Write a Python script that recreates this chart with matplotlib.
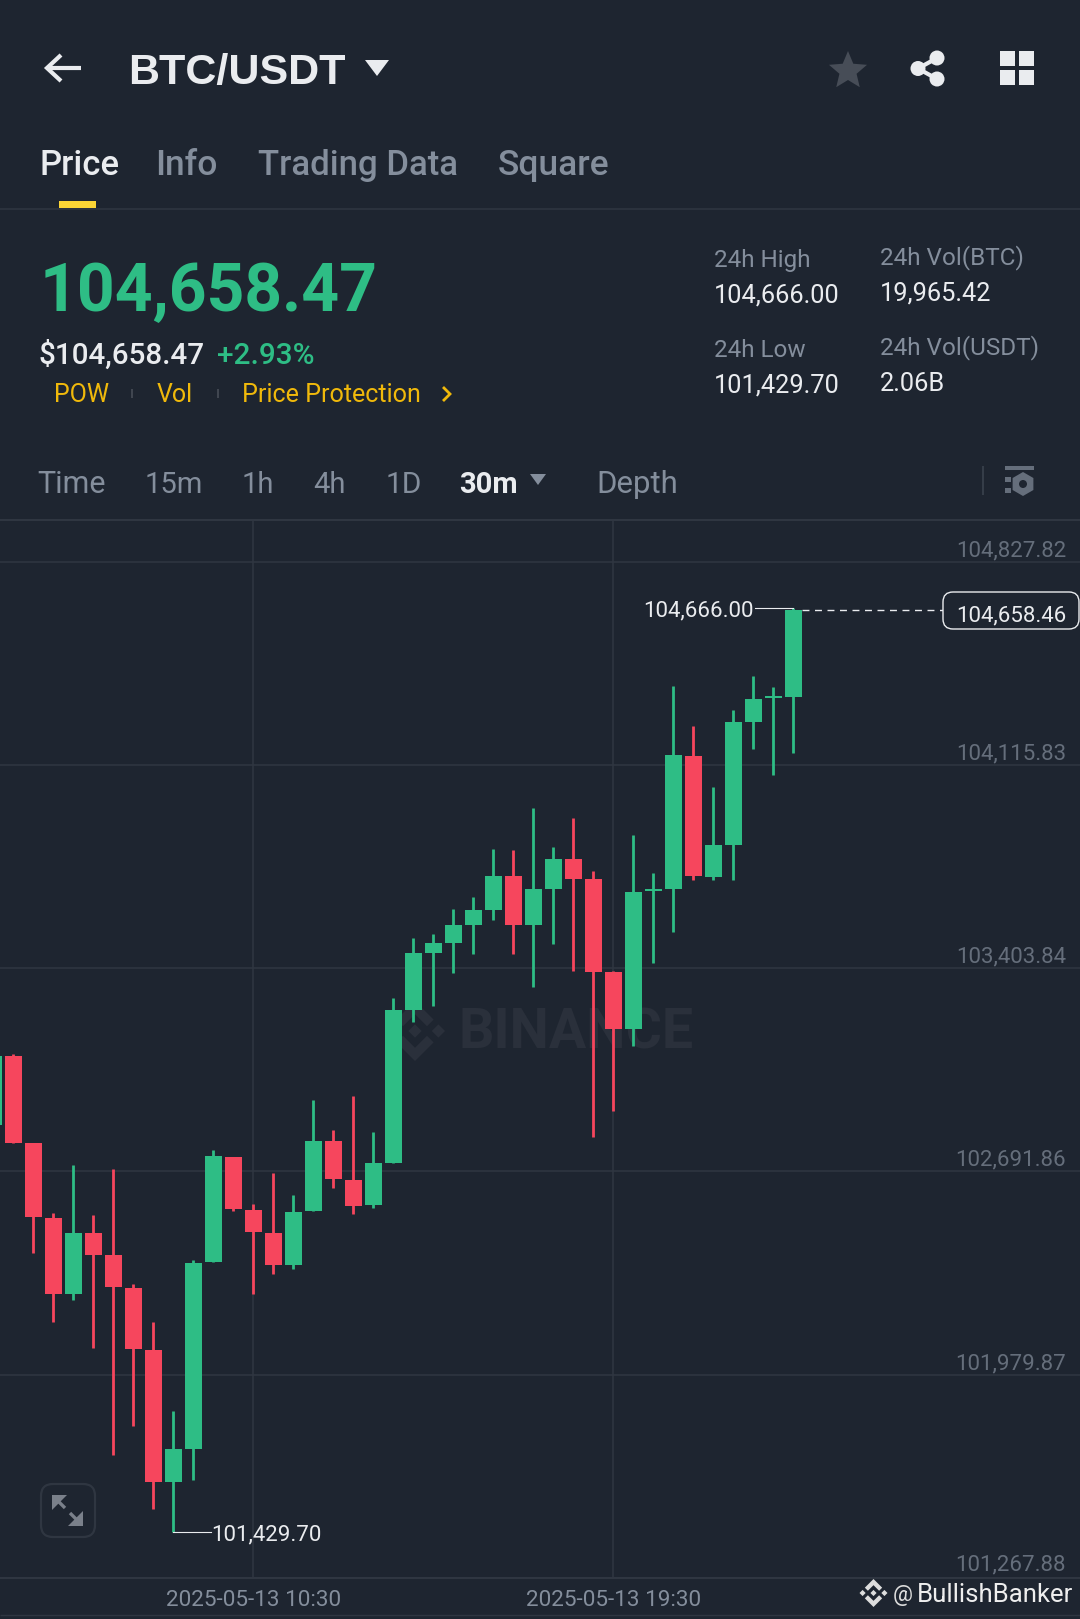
import numpy as np
import matplotlib
matplotlib.use('Agg')
import matplotlib.pyplot as plt
from matplotlib.patches import Polygon, Circle, FancyBboxPatch, Rectangle
from matplotlib.lines import Line2D
from matplotlib.transforms import Affine2D

plt.rcParams['font.family'] = ['Roboto', 'DejaVu Sans']

# 30m candles, first one is cut by the left edge
candle_index = list(range(-1, 40))
opens = [102855.6, 103097.8, 102789.8, 102529.1, 102260.6, 102476.5, 102398.8, 102284.3, 102067.1, 101602.5,
         101720.9, 102373.8, 102743.7, 102558.1, 102475.2, 102364.6, 102551.5, 102799.0, 102663.4, 102572.6,
         102722.6, 103257.4, 103455.9, 103493.3, 103556.4, 103607.8, 103726.9, 103554.1, 103682.5, 103785.3,
         103715.2, 103389.4, 103192.0, 103673.2, 103682.5, 104148.6, 103724.6, 103835.5, 104267.7, 104349.5,
         104353.0]
closes = [103097.8, 102792.4, 102530.4, 102260.6, 102476.5, 102400.1, 102285.6, 102068.4, 101602.5, 101718.3,
          102372.5, 102745.0, 102559.4, 102477.8, 102364.6, 102550.2, 102799.0, 102666.0, 102571.3, 102720.0,
          103257.4, 103455.9, 103493.3, 103556.4, 103606.6, 103726.9, 103554.1, 103680.2, 103785.3, 103715.2,
          103390.5, 103192.0, 103670.9, 103680.2, 104149.7, 103725.7, 103834.4, 104265.4, 104347.1, 104356.5,
          104658.46]
highs = [103097.8, 103101.7, 102789.8, 102547.6, 102713.4, 102539.7, 102700.3, 102297.5, 102165.9, 101853.9,
         102380.4, 102766.1, 102743.7, 102576.5, 102687.1, 102610.8, 102942.5, 102835.8, 102956.9, 102830.6,
         103298.3, 103509.7, 103523.7, 103610.1, 103652.2, 103820.4, 103818.0, 103964.0, 103829.7, 103930.1,
         103744.4, 103392.9, 103871.7, 103736.3, 104392.7, 104252.5, 104037.6, 104308.6, 104427.7, 104388.0,
         104666.00]
lows = [102855.6, 102792.4, 102406.7, 102165.9, 102242.2, 102072.4, 101697.2, 101801.2, 101510.3, 101429.70,
        101610.4, 102373.8, 102554.2, 102263.3, 102331.7, 102351.4, 102551.5, 102634.5, 102541.0, 102562.1,
        102722.6, 103214.2, 103272.6, 103388.2, 103453.6, 103572.7, 103454.8, 103338.0, 103489.8, 103395.2,
        102811.2, 102904.6, 103132.4, 103423.2, 103531.9, 103714.1, 103714.1, 103711.7, 104173.1, 104082.0,
        104157.9]

grid_prices = [104827.82, 104115.83, 103403.84, 102691.86, 101979.87, 101267.88]
time_ticks = [12, 30]
time_labels = ['2025-05-13 10:30', '2025-05-13 19:30']

BG = '#1E2530'
GRID = '#2F3641'
GREEN = '#2EBD85'
RED = '#F6465D'
WHITE = '#EAECEF'
GREY = '#848E9C'
DIM = '#656E7B'
YELLOW = '#F0B90B'

W, H = 1080, 1619
fig = plt.figure(figsize=(W / 100, H / 100), dpi=100, facecolor=BG)
# everything outside the candles is placed in screen pixels, y going down
px = Affine2D().scale(1, -1).translate(0, H)

top, bottom = 520, 1577.8
ax = fig.add_axes([0, 1 - bottom / H, 1, (bottom - top) / H], facecolor=BG)
ax.set_xlim(-2 / 3, 53 + 1 / 3)
ax.set_ylim(101267.88, 104974.3)

ax.set_yticks(grid_prices)
ax.set_yticklabels([])
ax.set_xticks(time_ticks)
ax.set_xticklabels(time_labels, fontsize=16.2, color=GREY)
ax.tick_params(length=0, pad=9)
ax.grid(True, color=GRID, lw=1.1)
ax.set_axisbelow(True)
for side in ['left', 'right']:
    ax.spines[side].set_visible(False)
for side in ['top', 'bottom']:
    ax.spines[side].set_color(GRID)
    ax.spines[side].set_linewidth(1.5)


def logo(cx, cy, r, color, target, zorder):
    shapes = [
        [(0, -.22), (.22, 0), (0, .22), (-.22, 0)],
        [(-.78, -.22), (-.56, 0), (-.78, .22), (-1, 0)],
        [(.78, -.22), (1, 0), (.78, .22), (.56, 0)],
        [(0, -1), (.62, -.38), (.40, -.16), (0, -.56), (-.40, -.16), (-.62, -.38)],
        [(0, 1), (.62, .38), (.40, .16), (0, .56), (-.40, .16), (-.62, .38)],
    ]
    for s in shapes:
        pts = np.array(s) * r + [cx, cy]
        p = Polygon(pts, closed=True, fc=color, ec='none', transform=px, zorder=zorder, clip_on=False)
        target(p)


# watermark sits behind the candles
logo(415, 1031, 30, '#2A303B', ax.add_patch, 1.5)
ax.text(458, 1048, 'BINANCE', transform=px, fontsize=40, fontweight='bold', color='#2A303B', zorder=1.5)

# candles
x = np.array(candle_index)
o = np.array(opens)
c = np.array(closes)
colors = [GREEN if b >= a else RED for a, b in zip(o, c)]
ax.vlines(x, lows, highs, colors=colors, lw=2, zorder=3)
body = np.maximum(np.abs(c - o), 7)
ax.bar(x, body, width=0.875, bottom=np.minimum(o, c), color=colors, zorder=4)

# price scale labels, just above their grid lines
for p in grid_prices:
    off = 7 if p == grid_prices[-1] else 5.5
    ax.annotate(f'{p:,.2f}', xy=(1, p), xycoords=ax.get_yaxis_transform(), xytext=(-14 * .72, off * .72),
                textcoords='offset points', ha='right', va='baseline', fontsize=16, color=DIM)

# high / low markers
hi_i = int(np.argmax(highs))
lo_i = int(np.argmin(lows))
hi_x = candle_index[hi_i]
lo_x = candle_index[lo_i]
ax.plot([hi_x, hi_x - 1.9], [highs[hi_i], highs[hi_i]], color=WHITE, lw=.8, zorder=5)
ax.annotate(f'{highs[hi_i]:,.2f}', xy=(hi_x, highs[hi_i]), xytext=(-40 * .72, -8.4 * .72),
            textcoords='offset points', ha='right', va='baseline', fontsize=16, color=WHITE, zorder=6)
ax.plot([lo_x, lo_x + 1.9], [lows[lo_i], lows[lo_i]], color=WHITE, lw=.8, zorder=5)
ax.annotate(f'{lows[lo_i]:,.2f}', xy=(lo_x, lows[lo_i]), xytext=(37.5 * .72, -8.5 * .72),
            textcoords='offset points', ha='left', va='baseline', fontsize=16, color=WHITE, zorder=6)

# last price line and box
ax.plot([x[-1] + .44, (943 - 40 / 3) / 20], [closes[-1], closes[-1]], color=WHITE, lw=1,
        dashes=(5, 4), zorder=5)
fig.add_artist(FancyBboxPatch((943, 592), 136, 37, boxstyle='round,pad=0,rounding_size=10', fc=BG, ec=WHITE,
                              lw=1, transform=px))


def label(x_px, y_px, s, size, color=WHITE, weight='normal', ha='left', family=None):
    fig.text(x_px, y_px, s, transform=px, fontsize=size, color=color, fontweight=weight, ha=ha, va='baseline',
             family=family)


def shape(pts, color):
    fig.add_artist(Polygon(pts, closed=True, fc=color, ec='none', transform=px))


def line(xs, ys, color, lw, cap='butt'):
    fig.add_artist(Line2D(xs, ys, color=color, lw=lw, transform=px, solid_capstyle=cap, solid_joinstyle='miter'))


label(1011, 621, f'{closes[-1]:,.2f}', 16, ha='center')

# top bar
line([49, 81], [68, 68], WHITE, 3)
line([61, 47, 61], [55, 68, 81], WHITE, 3)
label(128, 84, 'BTC/USDT', 31, weight='bold', family=['Liberation Sans', 'DejaVu Sans'])
shape([(365, 60), (389, 60), (377, 76)], WHITE)
ang = np.deg2rad(np.arange(10) * 36 - 90)
rad = np.where(np.arange(10) % 2 == 0, 20, 9)
shape(np.c_[848 + rad * np.cos(ang), 71 + rad * np.sin(ang)], '#474D57')
line([937, 918, 937], [58, 68.5, 79], WHITE, 3)
for cx, cy in [(937, 58), (918, 68.5), (937, 79)]:
    fig.add_artist(Circle((cx, cy), 7.5, fc=WHITE, ec='none', transform=px))
for rx, ry in [(1000, 51), (1019, 51), (1000, 70), (1019, 70)]:
    fig.add_artist(Rectangle((rx, ry), 15, 15, fc=WHITE, ec='none', transform=px))

# tabs
label(39, 175, 'Price', 25, weight='medium')
label(155, 175, 'Info', 25.5, GREY, 'medium')
label(258, 175, 'Trading Data', 25, GREY, 'medium')
label(498, 175, 'Square', 25.5, GREY, 'medium')
fig.add_artist(Rectangle((59, 201), 37, 7, fc='#FCD535', ec='none', transform=px))
line([0, W], [208.5, 208.5], GRID, 1.1)

# price block
label(40, 311, '104,658.47', 47.5, GREEN, 'bold')
label(39, 363.5, '$104,658.47', 21.3, WHITE, 'medium')
label(217, 363.5, '+2.93%', 21.4, GREEN, 'medium')
label(54, 402, 'POW', 18, YELLOW)
label(157, 402, 'Vol', 18, YELLOW)
label(242, 402, 'Price Protection', 18.1, YELLOW)
line([132, 132], [389, 398], '#474D57', 1.2)
line([218, 218], [389, 398], '#474D57', 1.2)
line([443, 450, 443], [387, 394, 401], YELLOW, 2)

label(714, 267, '24h High', 17.5, GREY)
label(714, 302, f'{max(highs):,.2f}', 18.3)
label(714, 357, '24h Low', 17.5, GREY)
label(714, 392, f'{min(lows):,.2f}', 18.3)
label(880, 264, '24h Vol(BTC)', 17.5, GREY)
label(880, 300.5, '19,965.42', 18.3)
label(880, 354, '24h Vol(USDT)', 17.5, GREY)
label(880, 391, '2.06B', 18.3)

# interval row
label(37, 493, 'Time', 22, GREY)
label(145, 493, '15m', 21, GREY)
label(242, 493, '1h', 21, GREY)
label(313, 493, '4h', 21, GREY)
label(386, 493, '1D', 21.5, GREY)
label(459, 493, '30m', 21, WHITE, 'bold')
shape([(530, 474), (546, 474), (538, 485)], GREY)
label(596, 493, 'Depth', 22.4, GREY)
line([983, 983], [466, 495], '#3A424E', 1.2)
fig.add_artist(Rectangle((1005, 466), 29, 4, fc=DIM, ec='none', transform=px))
fig.add_artist(Rectangle((1005, 477), 6, 5, fc=DIM, ec='none', transform=px))
fig.add_artist(Rectangle((1005, 488), 6, 5, fc=DIM, ec='none', transform=px))
hex_ang = np.deg2rad(np.arange(6) * 60 + 30)
shape(np.c_[1023 + 12 * np.cos(hex_ang), 484 + 12 * np.sin(hex_ang)], DIM)
fig.add_artist(Circle((1023, 484), 4, fc=BG, ec='none', transform=px))

# expand button
fig.add_artist(FancyBboxPatch((41, 1484), 54, 53, boxstyle='round,pad=0,rounding_size=12', fc=BG, ec='#2F3641',
                              lw=1.6, transform=px))
shape([(52, 1495), (67, 1495), (52, 1510)], '#7A808A')
shape([(83, 1526), (68, 1526), (83, 1511)], '#7A808A')
line([56, 65], [1499, 1508], '#7A808A', 2.4)
line([70, 79], [1513, 1522], '#7A808A', 2.4)

# footer
line([0, W], [1615, 1615], GRID, 1)
logo(873.5, 1593, 14, '#DDDDDD', fig.add_artist, 10)
label(893, 1601, '@', 16, '#DDDDDD')
label(917, 1602, 'BullishBanker', 18.5, '#EEEEEE')

plt.savefig('out.png', dpi=100, facecolor=BG)
